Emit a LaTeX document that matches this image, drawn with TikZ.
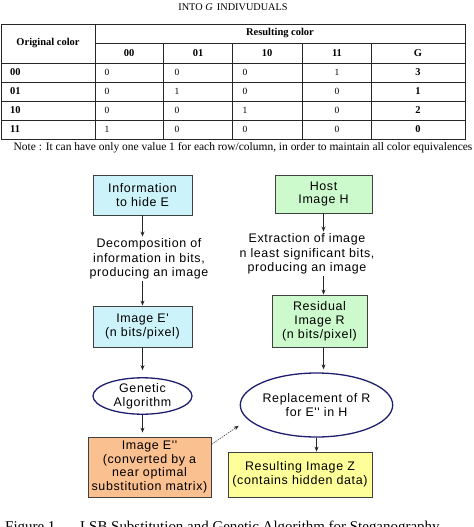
\documentclass[tikz,border=0pt]{standalone}
\usepackage{fontspec}
\setmainfont{Liberation Serif}
\newfontfamily\arialfont[LetterSpace=5]{Liberation Sans}
\usepackage{tikz}
\usetikzlibrary{positioning, shapes.geometric, arrows.meta}
\usepackage{xcolor}
\definecolor{HideCyan}{RGB}{204, 243, 250}
\definecolor{HostGreen}{RGB}{204, 250, 204}
\definecolor{SubOrange}{RGB}{250, 192, 144}
\definecolor{ResultYellow}{RGB}{255, 255, 153}
\definecolor{OvalNavy}{RGB}{30, 30, 110}

\begin{document}
\begin{tikzpicture}[
            x=1bp, y=-1bp,
            flowbox/.style={
                draw=black!75, line width=0.8bp, align=center, inner sep=0pt,
                font=\arialfont\fontsize{12.5}{14}\selectfont
            },
            flowoval/.style={
                ellipse, draw=OvalNavy, line width=1.3bp, align=center, inner sep=0pt,
                font=\arialfont\fontsize{12.5}{14.2}\selectfont
            },
            steptext/.style={align=center, inner sep=2bp,
                font=\arialfont\fontsize{12.5}{14.5}\selectfont},
            arrow/.style={-{Stealth[length=5bp, width=4bp]}, line width=0.7bp, black!85},
            tabline/.style={line width=0.8bp, black!85},
            cell/.style={inner sep=0pt, font=\fontsize{9.5}{11}\selectfont},
            headcell/.style={cell, font=\fontsize{10.5}{12}\selectfont\bfseries}
        ]
            \useasboundingbox (0,0) rectangle (474,527);

            % Table title and frame
            \node[font=\fontsize{10.3}{12}\selectfont] (title) at (233,7) {INTO \textit{G}\, INDIVUDUALS};
            \draw[tabline] (1,24) rectangle (465,139);
            \draw[tabline] (95,43) -- (465,43);
            \foreach \ly in {63,82,101,120}
                \draw[tabline] (1,\ly) -- (465,\ly);
            \draw[tabline] (95,24) -- (95,139);
            \foreach \lx in {163,232,302,371}
                \draw[tabline] (\lx,43) -- (\lx,139);

            % Header cells
            \node[headcell] (orig) at (48,43.5) {Original color};
            \node[headcell] (res) at (280,33.5) {Resulting color};
            \foreach \hlab/\hx in {00/129, 01/198, 10/267, 11/337, G/418}
                \node[headcell] (h\hlab) at (\hx,53) {\hlab};

            % Table rows
            \foreach \rlab/\a/\b/\c/\d/\g [count=\i] in {00/0/0/0/1/3, 01/0/1/0/0/1, 10/0/0/1/0/2, 11/1/0/0/0/0} {
                \pgfmathsetmacro\ry{53.5+19*\i}
                \node[headcell, anchor=west] (r\i) at (10,\ry) {\rlab};
                \node[cell] (r\i a) at (107,\ry) {\a};
                \node[cell] (r\i b) at (177,\ry) {\b};
                \node[cell] (r\i c) at (245,\ry) {\c};
                \node[cell] (r\i d) at (337,\ry) {\d};
                \node[headcell] (r\i g) at (418,\ry) {\g};
            }

            \node[font=\fontsize{11.5}{13}\selectfont] (note) at (243,148)
                {Note : It can have only one value 1 for each row/column, in order to maintain all color equivalences};

            % Left branch - information to hide
            \node[flowbox, fill=HideCyan, minimum width=99bp, minimum height=40bp] (info) at (142.5,195)
                {Information\\to hide E};
            \node[steptext] (decomp) at (149,259)
                {Decomposition of\\information in bits,\\producing an image};
            \node[flowbox, fill=HideCyan, minimum width=99bp, minimum height=41bp] (imgE) at (142.5,326.5)
                {Image E'\\(n bits/pixel)};
            \node[flowoval, minimum width=99bp, minimum height=36bp] (genetic) at (142.5,396)
                {Genetic\\Algorithm};
            \node[flowbox, fill=SubOrange, minimum width=123bp, minimum height=60bp] (imgEE) at (149.5,467)
                {Image E''\\(converted by a\\near optimal\\substitution matrix)};

            % Right branch - host image
            \node[flowbox, fill=HostGreen, minimum width=97bp, minimum height=38bp] (host) at (323.5,194)
                {Host\\Image H};
            \node[steptext] (extract) at (307,254)
                {Extraction of image\\n least significant bits,\\producing an image};
            \node[flowbox, fill=HostGreen, minimum width=95bp, minimum height=52bp] (resid) at (319.5,321)
                {Residual\\Image R\\(n bits/pixel)};
            \node[flowoval, minimum width=127bp, minimum height=64bp] (replace) at (316.5,405)
                {Replacement of R\\for E'' in H};
            \node[flowbox, fill=ResultYellow, minimum width=144bp, minimum height=45bp] (result) at (300,474.5)
                {Resulting Image Z\\(contains hidden data)};

            % Connections
            \draw[arrow] (info.south) -- (info.south |- decomp.north);
            \draw[arrow] (info.south |- decomp.south) -- (imgE.north);
            \draw[arrow, shorten >=7bp] (imgE.south) -- (genetic.north);
            \draw[arrow, shorten >=4bp] (genetic.south) -- (genetic.south |- imgEE.north);
            \draw[arrow] (host.south) -- (host.south |- extract.north);
            \draw[arrow] (host.south |- extract.south) -- (host.south |- resid.north);
            \draw[arrow, shorten >=3bp] (host.south |- resid.south) -- (host.south |- replace.north);
            \draw[arrow] (replace.south) -- (replace.south |- result.north);
            \draw[arrow, line width=0.5bp, dash pattern=on 1.5bp off 1bp, shorten >=11bp] (imgEE.20) -- (replace.192);

            % Caption, cut by the page edge
            \node[anchor=base west, inner sep=0pt, font=\fontsize{15}{17}\selectfont] (caption) at (5,531)
                {Figure 1.\hspace{1.4em}LSB Substitution and Genetic Algorithm for Steganography};
        \end{tikzpicture}
\end{document}
